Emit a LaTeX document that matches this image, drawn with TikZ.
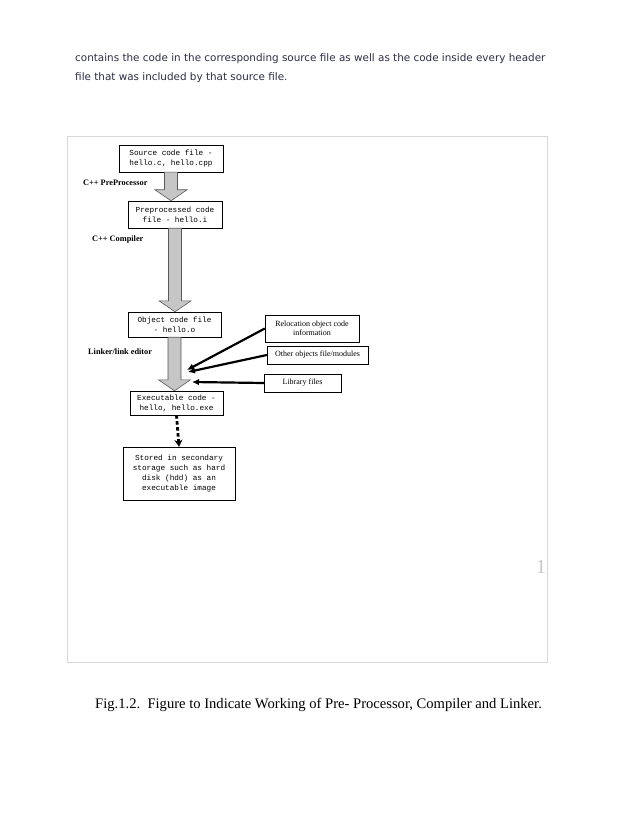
\documentclass[tikz,border=0pt]{standalone}
\usepackage{fontspec}
\setmainfont{Liberation Serif}
\newfontfamily\bodyfont{DejaVu Sans}
\newfontfamily\boxfont{Liberation Mono}
\usetikzlibrary{calc}
\usetikzlibrary{arrows.meta}

\definecolor{bodyink}{RGB}{45,45,70}
\definecolor{framegray}{RGB}{215,215,215}

% wide grey arrow from the bottom of one box to the top of the next
\newcommand{\fatarrow}[2]{%
  \path[fatarrow] let \p1=(#1.south), \p2=(#2.north) in
    ({\x1-6.5pt},\y1) -- ({\x1-6.5pt},{\y2+11pt}) -- ({\x1-16pt},{\y2+11pt})
    -- (\x1,\y2) -- ({\x1+16pt},{\y2+11pt}) -- ({\x1+6.5pt},{\y2+11pt})
    -- ({\x1+6.5pt},\y1) -- cycle;}

\begin{document}
\begin{tikzpicture}[x=1pt,y=-1pt,
    codebox/.style={draw,thin,fill=white,align=center,inner sep=0pt,
      font=\boxfont\fontsize{7.7}{10}\selectfont},
    sidebox/.style={draw,thin,fill=white,align=center,inner sep=0pt,
      font=\fontsize{8}{9.5}\selectfont},
    steplabel/.style={anchor=west,inner sep=0pt,font=\bfseries\fontsize{8.3}{9}\selectfont},
    fatarrow/.style={draw=gray!70!black,fill=gray!45,line width=0.6pt},
    feed/.style={line width=2.2pt,-{Latex[length=7pt,width=6.5pt]}}]

    % Page:
    \fill[white] (0,0) rectangle (638,826);
    \node[anchor=base west,inner sep=0pt,text=bodyink,font=\bodyfont\fontsize{10.4}{12}\selectfont] (line1) at (75,62)
      {contains the code in the corresponding source file as well as the code inside every header};
    \node[anchor=base west,inner sep=0pt,text=bodyink,font=\bodyfont\fontsize{10.4}{12}\selectfont] (line2) at (75,81)
      {file that was included by that source file.};
    \draw[framegray,line width=0.8pt] (67,136) rectangle (547,662);
    \node[text=gray!45,font=\fontsize{20}{20}\selectfont] (ghost) at (541,567) {1};

    % Boxes down the middle:
    \node[codebox,minimum width=104,minimum height=27] (src) at (171,158.5)
      {Source code file -\\hello.c, hello.cpp};
    \node[codebox,minimum width=94,minimum height=27] (pre) at (175,214.5)
      {Preprocessed code\\file - hello.i};
    \node[codebox,minimum width=93,minimum height=25] (obj) at (174.5,324.5)
      {Object code file\\- hello.o};
    \node[codebox,minimum width=93,minimum height=24] (exe) at (176.5,403)
      {Executable code -\\hello, hello.exe};
    \node[codebox,minimum width=112,minimum height=53] (store) at (179,473.5)
      {Stored in secondary\\storage such as hard\\disk (hdd) as an\\executable image};

    % Step labels:
    \node[steplabel] (cpp) at (83,183) {C++ PreProcessor};
    \node[steplabel] (cc) at (92,240) {C++ Compiler};
    \node[steplabel] (ld) at (88,352) {Linker/link editor};

    % Grey arrows:
    \fatarrow{src}{pre}
    \fatarrow{pre}{obj}
    \fatarrow{obj}{exe}

    % Dotted arrow to storage:
    \draw[line width=2.8pt,dash pattern=on 3.5pt off 2.5pt,-{Stealth[length=7pt,width=8pt]}]
      (exe.south) -- (store.north);

    % Inputs to the linker:
    \node[sidebox,minimum width=94,minimum height=27] (reloc) at (312,328.5)
      {Relocation object code\\information};
    \node[sidebox,minimum width=101,minimum height=18] (other) at (317.5,355)
      {Other objects file/modules};
    \node[sidebox,minimum width=77,minimum height=18] (lib) at (302.5,383)
      {Library files};
    \coordinate (hitA) at (187,370);
    \coordinate (hitB) at (188,372);
    \coordinate (hitC) at (192,382);
    \draw[feed] (reloc.west) -- (hitA);
    \draw[feed] (other.west) -- (hitB);
    \draw[feed] (lib.west) -- (hitC);

    % Caption:
    \node[anchor=base west,inner sep=0pt,font=\fontsize{14.6}{17}\selectfont] (caption) at (95,708)
      {Fig.1.2.\ \ Figure to Indicate Working of Pre- Processor, Compiler and Linker.};
\end{tikzpicture}
\end{document}
